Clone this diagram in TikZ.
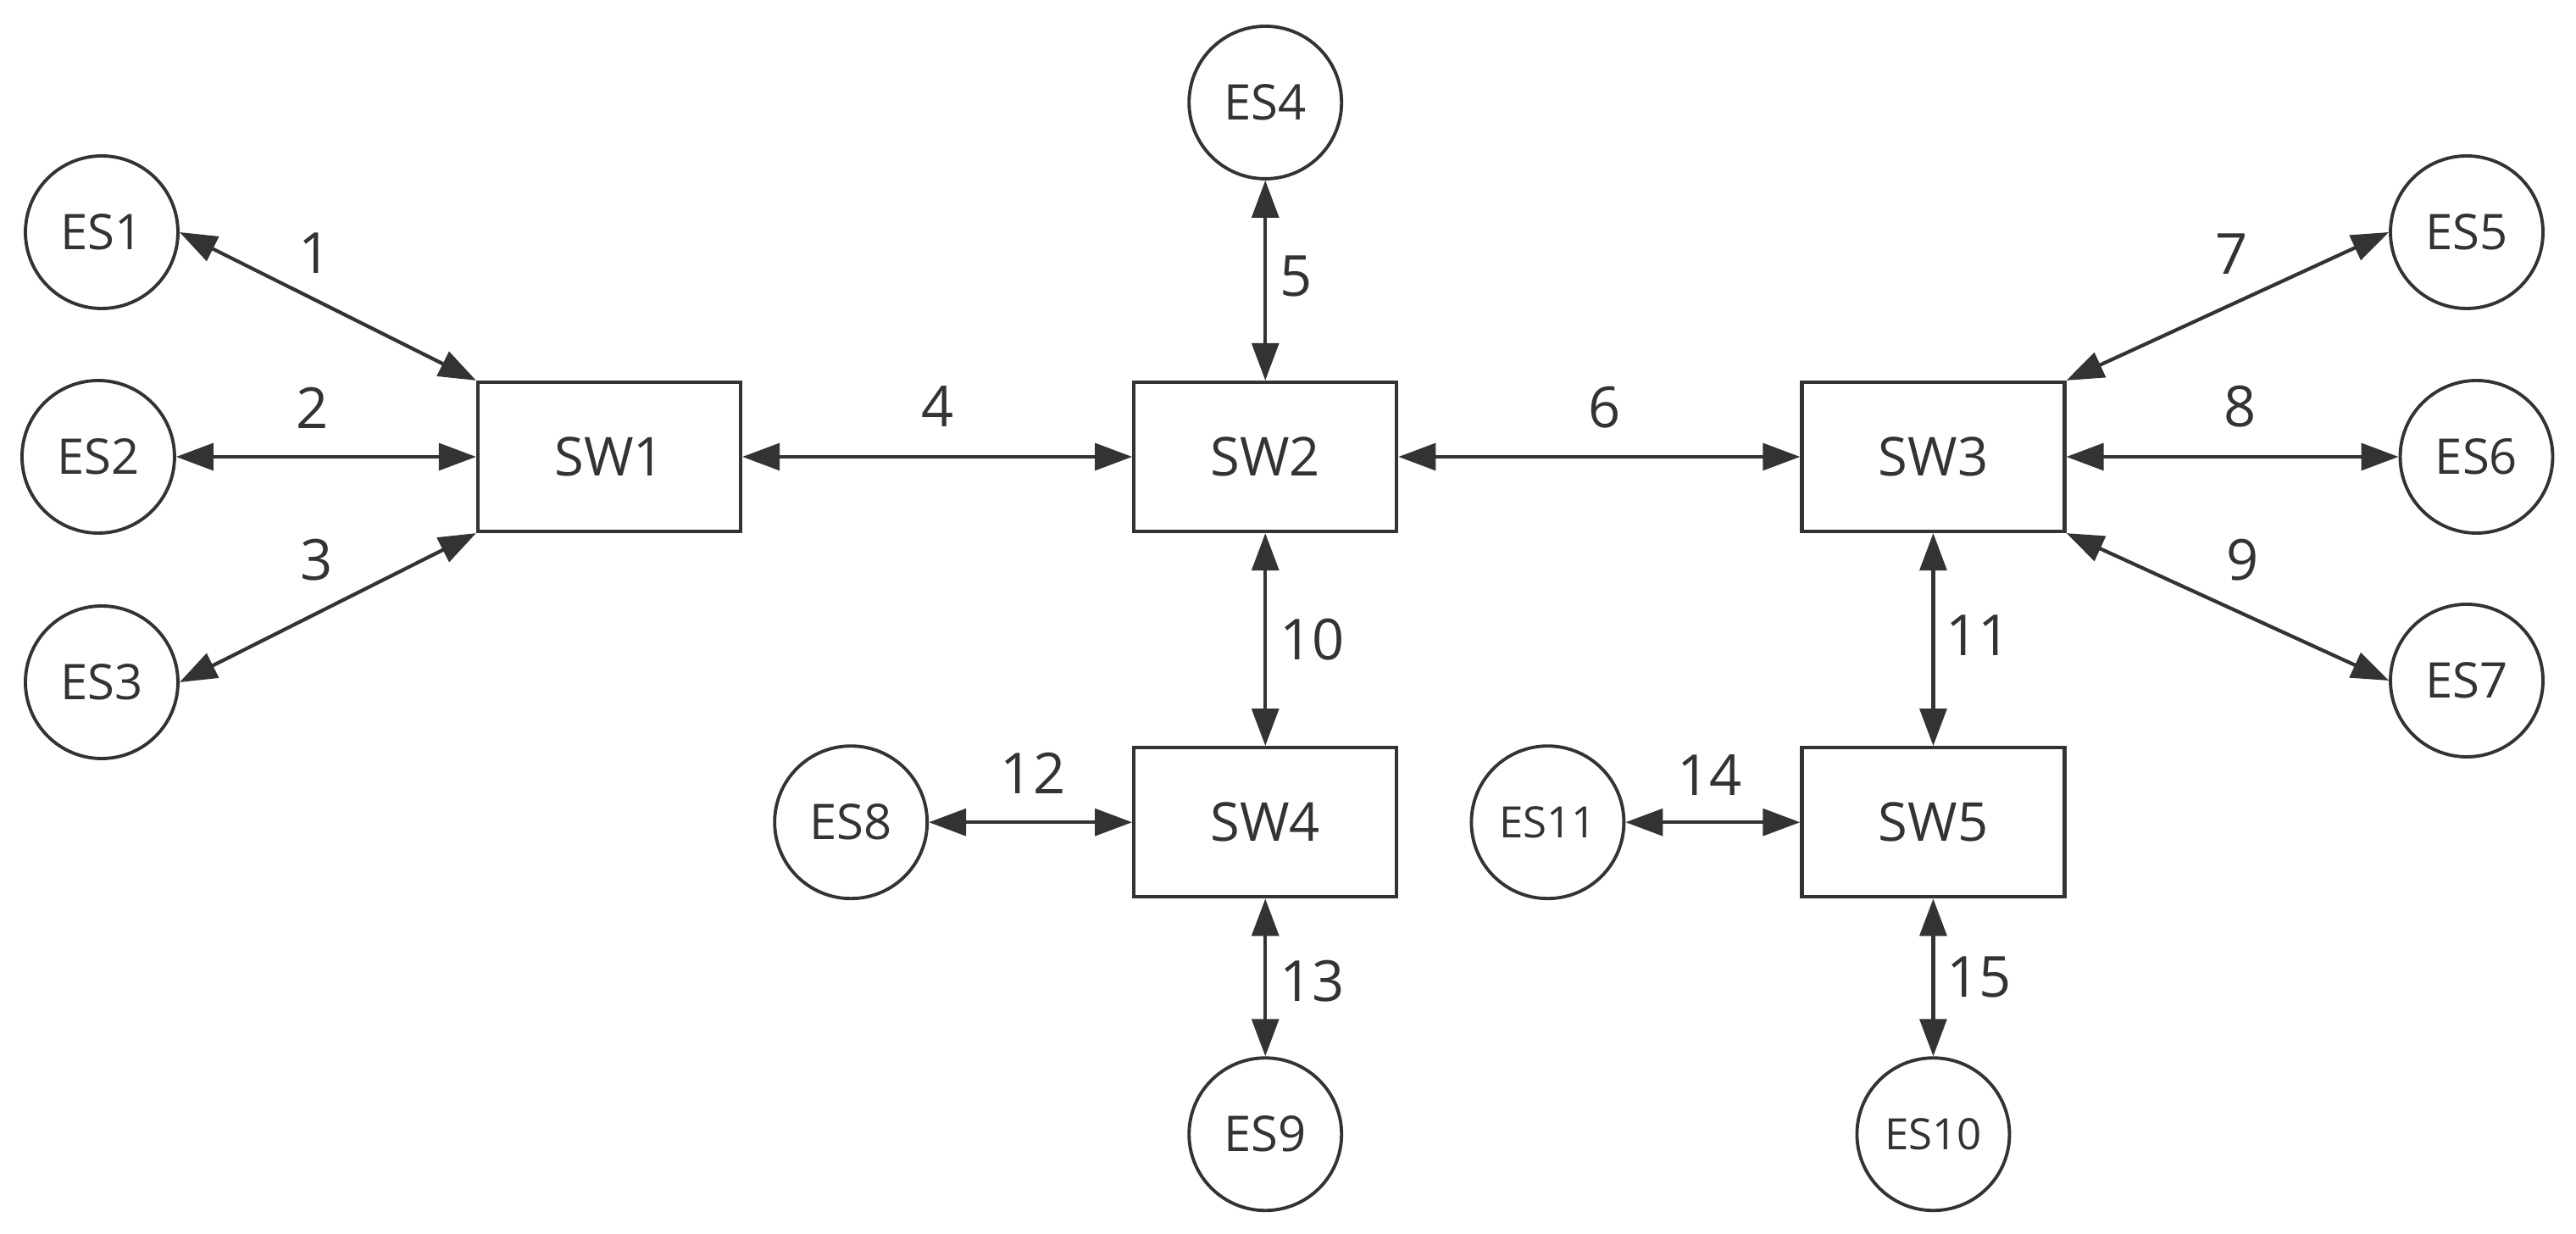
\documentclass[tikz,border=0pt]{standalone}
\usepackage{fontspec}
\setmainfont{Open Sans}
\usepackage{tikz}
\usetikzlibrary{arrows.meta}
\usetikzlibrary{positioning}
\definecolor{ink}{HTML}{333333}

\begin{document}
\begin{tikzpicture}[
  >={Triangle[length=12.5pt,width=9pt]},
  es/.style={draw=ink, circle, line width=1.1pt, minimum size=1.8cm, inner sep=0pt, text=ink, font=\fontsize{16.5}{18}\selectfont},
  esnarrow/.style={es, font=\fontsize{14.5}{16}\selectfont},
  sw/.style={draw=ink, rectangle, line width=1.2pt, minimum width=3.1cm, minimum height=1.76cm, text=ink, font=\fontsize{18}{20}\selectfont},
  link/.style={<->, draw=ink, line width=1.2pt},
  num/.style={text=ink, inner sep=0pt, font=\fontsize{19}{21}\selectfont}
]
\useasboundingbox (0,0) rectangle (30.4,14.55);

% switches
\node[sw] (SW1) at (7.19,9.16) {SW1};
\node[sw, right=4.6cm of SW1] (SW2) {SW2};
\node[sw, right=4.74cm of SW2] (SW3) {SW3};
\node[sw, below=2.51cm of SW2] (SW4) {SW4};
\node[sw, below=2.51cm of SW3] (SW5) {SW5};

% end stations
\node[es] (ES1) at (1.20,11.81) {ES1};
\node[es, left=3.54cm of SW1] (ES2) {ES2};
\node[es] (ES3) at (1.20,6.50) {ES3};
\node[es, above=2.36cm of SW2] (ES4) {ES4};
\node[es] (ES5) at (29.11,11.81) {ES5};
\node[es, right=3.92cm of SW3] (ES6) {ES6};
\node[es] (ES7) at (29.11,6.52) {ES7};
\node[es, left=2.4cm of SW4] (ES8) {ES8};
\node[es, below=1.86cm of SW4] (ES9) {ES9};
\node[esnarrow, below=1.86cm of SW5] (ES10) {ES10};
\node[esnarrow, left=2.06cm of SW5] (ES11) {ES11};

% links
\draw[link] (ES1.east) -- (SW1.north west) node[num, midway, shift={(-0.155,0.63)}] {1};
\draw[link] (ES2) -- (SW1) node[num, midway, shift={(-0.16,0.58)}] {2};
\draw[link] (ES3.east) -- (SW1.south west) node[num, midway, shift={(-0.135,0.56)}] {3};
\draw[link] (SW1) -- (SW2) node[num, midway, yshift=0.59cm] {4};
\draw[link] (ES4) -- (SW2) node[num, midway, shift={(0.36,0.05)}] {5};
\draw[link] (SW2) -- (SW3) node[num, midway, shift={(0.06,0.58)}] {6};
\draw[link] (SW3.north east) -- (ES5.west) node[num, midway, shift={(0.045,0.62)}] {7};
\draw[link] (SW3) -- (ES6) node[num, midway, shift={(0.09,0.59)}] {8};
\draw[link] (SW3.south east) -- (ES7.west) node[num, midway, shift={(0.175,0.55)}] {9};
\draw[link] (SW2) -- (SW4) node[num, midway, xshift=0.55cm] {10};
\draw[link] (SW3) -- (SW5) node[num, midway, shift={(0.53,0.05)}] {11};
\draw[link] (ES8) -- (SW4) node[num, midway, shift={(0.03,0.58)}] {12};
\draw[link] (SW4) -- (ES9) node[num, midway, shift={(0.55,-0.04)}] {13};
\draw[link] (ES11) -- (SW5) node[num, midway, shift={(-0.04,0.56)}] {14};
\draw[link] (SW5) -- (ES10) node[num, midway, xshift=0.54cm] {15};
\end{tikzpicture}
\end{document}
